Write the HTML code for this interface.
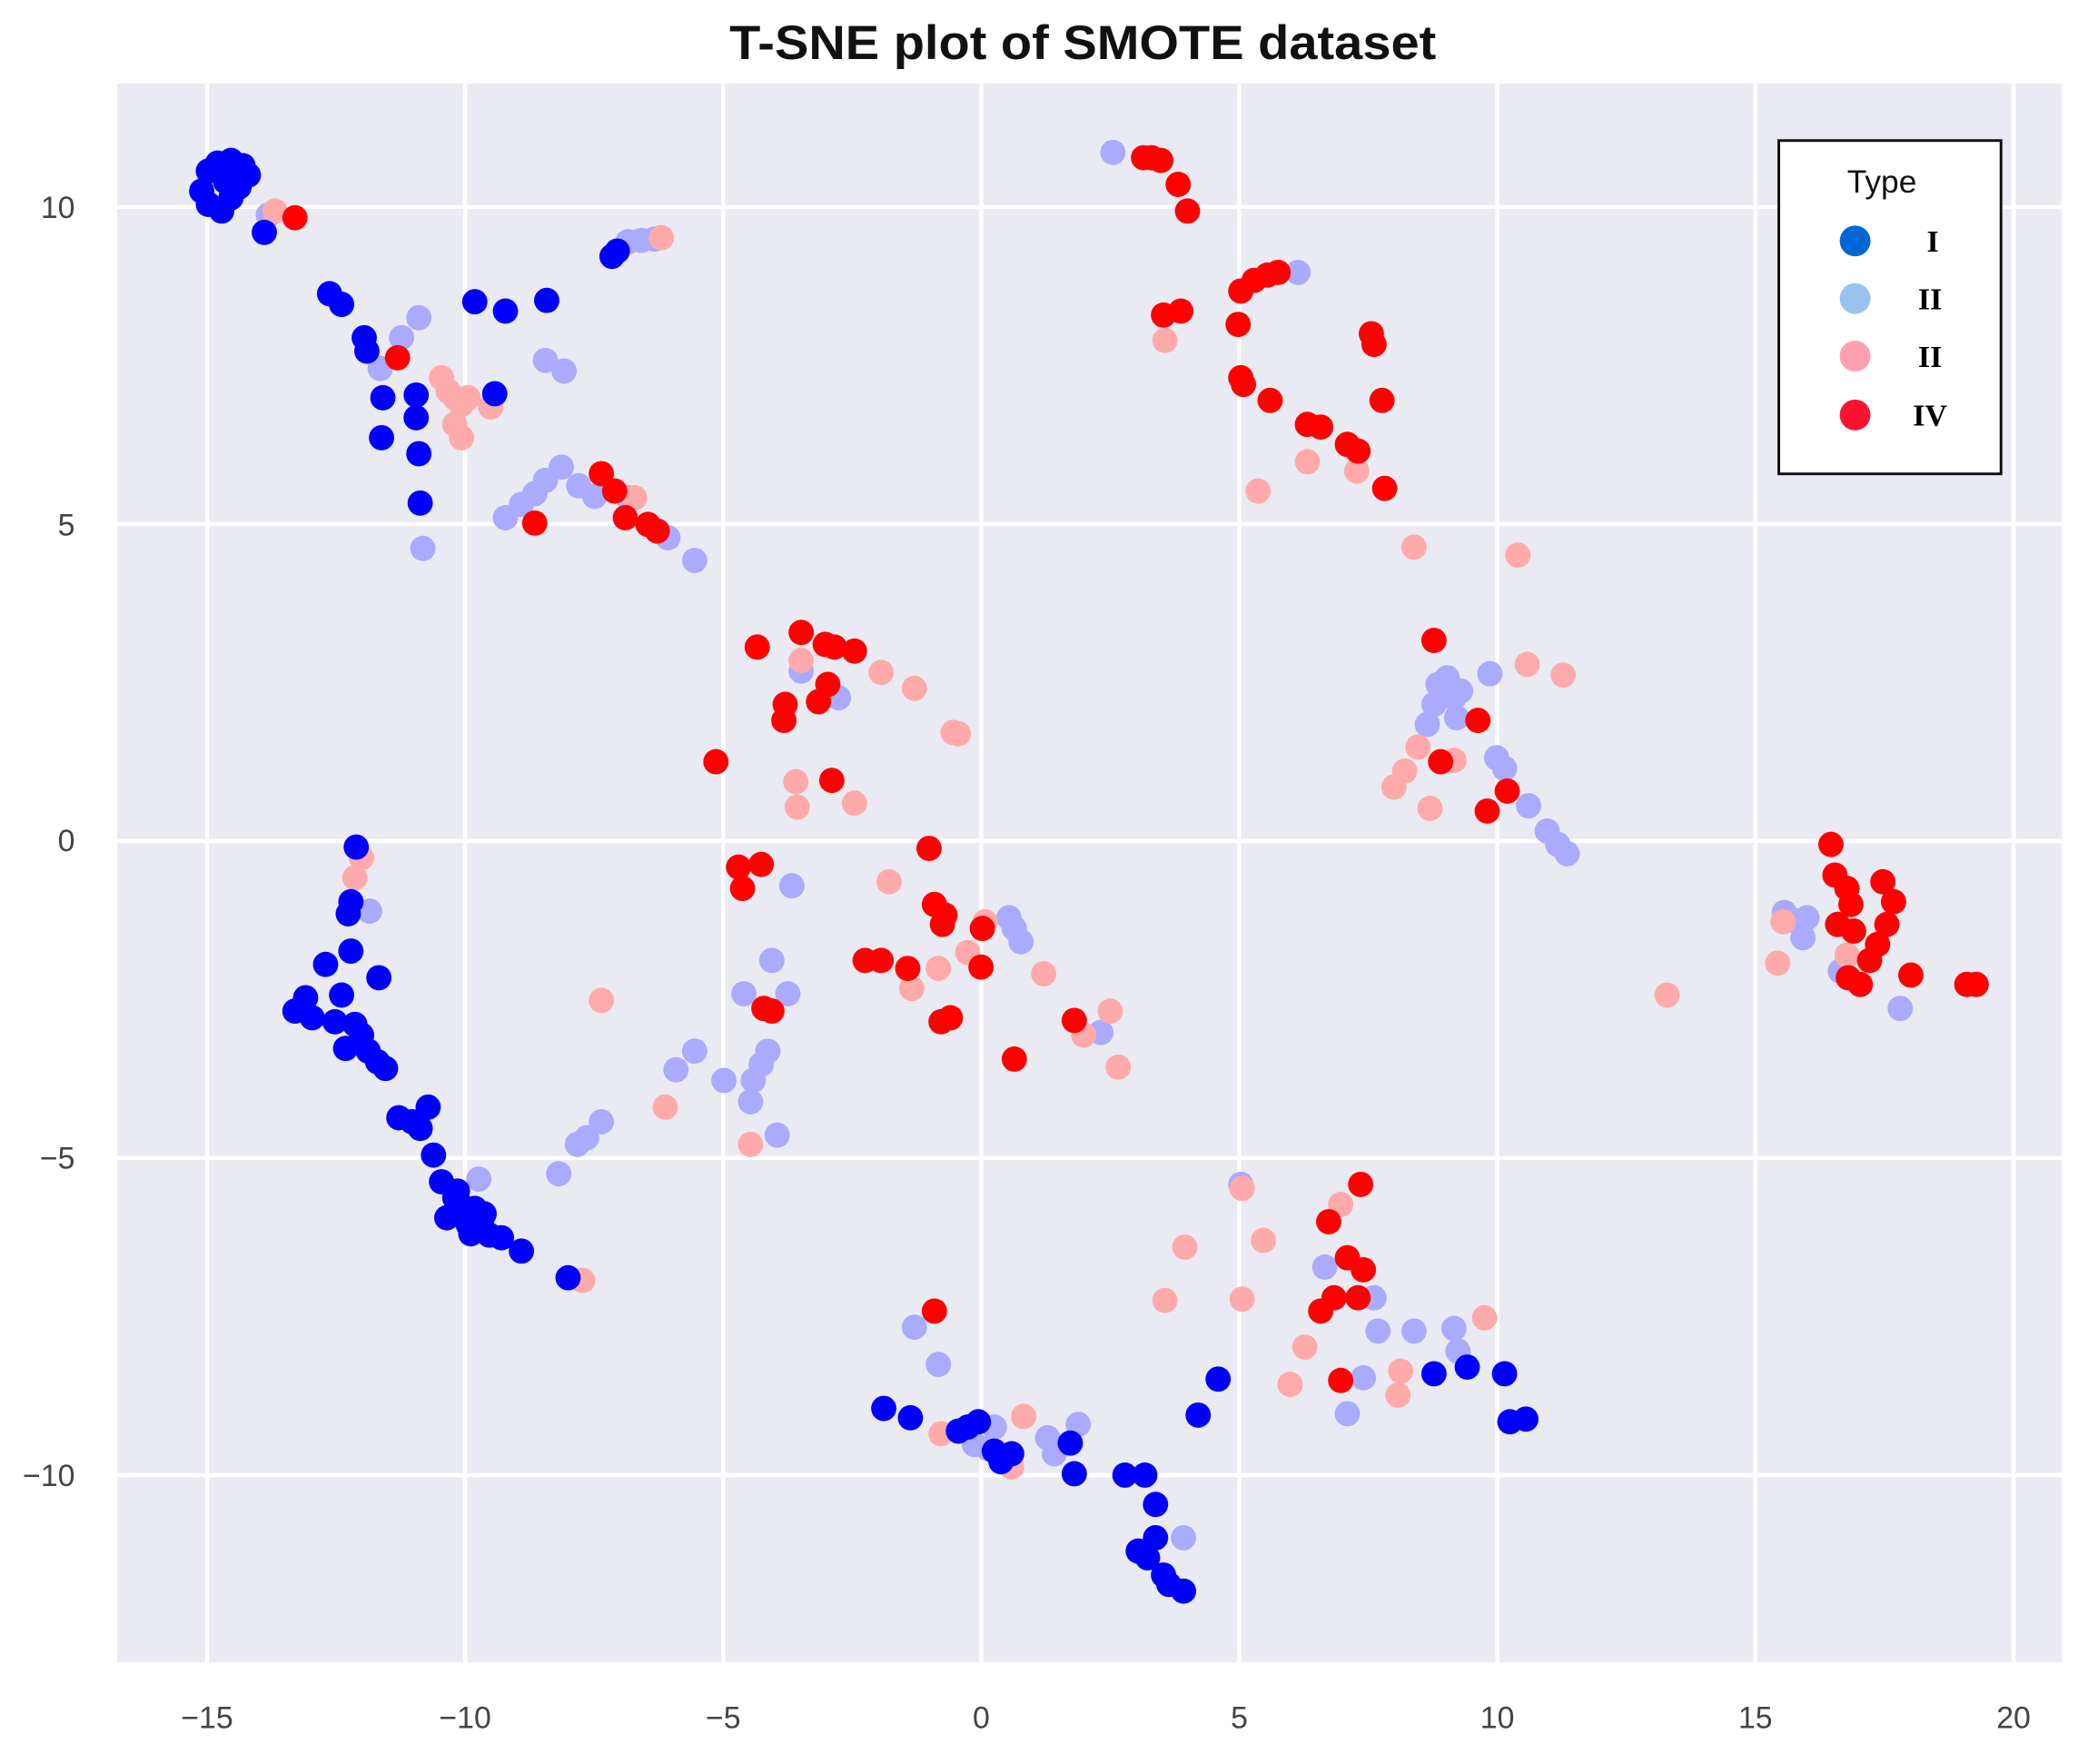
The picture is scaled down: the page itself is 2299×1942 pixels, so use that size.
<!DOCTYPE html>
<html><head><meta charset="utf-8"><style>
html,body{margin:0;padding:0;background:#fff;}
svg{display:block;}
</style></head><body>
<svg width="2299" height="1942" viewBox="0 0 1560 1317.8" preserveAspectRatio="none" xmlns="http://www.w3.org/2000/svg">
<rect x="0" y="0" width="1560" height="1318" fill="#fff"/>
<rect x="87.5" y="62.4" width="1452.8" height="1179.4" fill="#eaeaf2"/>
<g stroke="#fff" stroke-width="3">
<line x1="154.7" y1="62.4" x2="154.7" y2="1241.8"/><line x1="347.5" y1="62.4" x2="347.5" y2="1241.8"/><line x1="540.3" y1="62.4" x2="540.3" y2="1241.8"/><line x1="733.1" y1="62.4" x2="733.1" y2="1241.8"/><line x1="925.9" y1="62.4" x2="925.9" y2="1241.8"/><line x1="1118.7" y1="62.4" x2="1118.7" y2="1241.8"/><line x1="1311.5" y1="62.4" x2="1311.5" y2="1241.8"/><line x1="1504.4" y1="62.4" x2="1504.4" y2="1241.8"/>
<line x1="87.5" y1="154.7" x2="1540.3" y2="154.7"/><line x1="87.5" y1="391.5" x2="1540.3" y2="391.5"/><line x1="87.5" y1="628.3" x2="1540.3" y2="628.3"/><line x1="87.5" y1="865.1" x2="1540.3" y2="865.1"/><line x1="87.5" y1="1102" x2="1540.3" y2="1102"/>
</g>
<g font-family="Liberation Sans, sans-serif" font-size="23" fill="#444" text-anchor="middle">
<text x="154.7" y="1291">−15</text><text x="347.5" y="1291">−10</text><text x="540.3" y="1291">−5</text><text x="733.1" y="1291">0</text><text x="925.9" y="1291">5</text><text x="1118.7" y="1291">10</text><text x="1311.5" y="1291">15</text><text x="1504.4" y="1291">20</text>
</g>
<g font-family="Liberation Sans, sans-serif" font-size="23" fill="#444" text-anchor="end">
<text x="56" y="163">10</text><text x="56" y="400">5</text><text x="56" y="636">0</text><text x="56" y="873">−5</text><text x="56" y="1110">−10</text>
</g>
<text x="809" y="44" font-family="Liberation Sans, sans-serif" font-weight="bold" font-size="36" text-anchor="middle" textLength="528" lengthAdjust="spacingAndGlyphs" fill="#111">T-SNE plot of SMOTE dataset</text>
<g transform="matrix(0.9953,0,0,0.9961,1.4,-1.7)">
<g fill="#aaaaff">
<circle cx="200" cy="163" r="9.5"/><circle cx="834" cy="116" r="9.5"/><circle cx="973" cy="206" r="9.5"/>
<circle cx="284" cy="278" r="9.5"/><circle cx="300" cy="255" r="9.5"/><circle cx="313" cy="240" r="9.5"/><circle cx="408" cy="272" r="9.5"/><circle cx="422" cy="280" r="9.5"/><circle cx="316" cy="413" r="9.5"/><circle cx="378" cy="390" r="9.5"/><circle cx="390" cy="380" r="9.5"/><circle cx="400" cy="372" r="9.5"/><circle cx="408" cy="362" r="9.5"/><circle cx="420" cy="352" r="9.5"/><circle cx="433" cy="366" r="9.5"/><circle cx="445" cy="374" r="9.5"/><circle cx="470" cy="375" r="9.5"/><circle cx="500" cy="405" r="9.5"/><circle cx="520" cy="422" r="9.5"/><circle cx="470" cy="183" r="9.5"/><circle cx="480" cy="182" r="9.5"/><circle cx="490" cy="181" r="9.5"/>
<circle cx="1070" cy="545" r="9.5"/><circle cx="1075" cy="530" r="9.5"/><circle cx="1078" cy="515" r="9.5"/><circle cx="1085" cy="510" r="9.5"/><circle cx="1090" cy="525" r="9.5"/><circle cx="1095" cy="520" r="9.5"/><circle cx="1092" cy="540" r="9.5"/><circle cx="1117" cy="507" r="9.5"/><circle cx="1122" cy="570" r="9.5"/><circle cx="1128" cy="578" r="9.5"/><circle cx="1146" cy="606" r="9.5"/><circle cx="1160" cy="625" r="9.5"/><circle cx="1168" cy="635" r="9.5"/><circle cx="1175" cy="642" r="9.5"/>
<circle cx="1338" cy="686" r="9.5"/><circle cx="1345" cy="692" r="9.5"/><circle cx="1355" cy="690" r="9.5"/><circle cx="1352" cy="705" r="9.5"/><circle cx="1380" cy="730" r="9.5"/><circle cx="1425" cy="758" r="9.5"/>
<circle cx="600" cy="505" r="9.5"/><circle cx="628" cy="525" r="9.5"/><circle cx="593" cy="666" r="9.5"/><circle cx="756" cy="690" r="9.5"/><circle cx="760" cy="698" r="9.5"/><circle cx="765" cy="708" r="9.5"/><circle cx="578" cy="722" r="9.5"/><circle cx="557" cy="747" r="9.5"/><circle cx="590" cy="747" r="9.5"/><circle cx="575" cy="790" r="9.5"/><circle cx="570" cy="800" r="9.5"/><circle cx="564" cy="812" r="9.5"/><circle cx="562" cy="828" r="9.5"/><circle cx="582" cy="853" r="9.5"/><circle cx="520" cy="790" r="9.5"/><circle cx="506" cy="804" r="9.5"/><circle cx="542" cy="812" r="9.5"/><circle cx="825" cy="776" r="9.5"/><circle cx="439" cy="855" r="9.5"/><circle cx="432" cy="860" r="9.5"/><circle cx="450" cy="843" r="9.5"/><circle cx="418" cy="882" r="9.5"/>
<circle cx="276" cy="685" r="9.5"/><circle cx="358" cy="886" r="9.5"/>
<circle cx="685" cy="997" r="9.5"/><circle cx="703" cy="1025" r="9.5"/><circle cx="740" cy="1088" r="9.5"/><circle cx="730" cy="1085" r="9.5"/><circle cx="755" cy="1095" r="9.5"/><circle cx="785" cy="1080" r="9.5"/><circle cx="790" cy="1092" r="9.5"/><circle cx="808" cy="1070" r="9.5"/><circle cx="887" cy="1155" r="9.5"/><circle cx="745" cy="1072" r="9.5"/>
<circle cx="930" cy="890" r="9.5"/><circle cx="993" cy="952" r="9.5"/><circle cx="1030" cy="975" r="9.5"/><circle cx="1033" cy="1000" r="9.5"/><circle cx="1060" cy="1000" r="9.5"/><circle cx="1090" cy="998" r="9.5"/><circle cx="1093" cy="1015" r="9.5"/><circle cx="1022" cy="1035" r="9.5"/><circle cx="1010" cy="1062" r="9.5"/>
</g>
<g fill="#ffaaaa">
<circle cx="205" cy="160" r="9.5"/><circle cx="330" cy="285" r="9.5"/><circle cx="335" cy="295" r="9.5"/><circle cx="340" cy="300" r="9.5"/><circle cx="345" cy="305" r="9.5"/><circle cx="350" cy="300" r="9.5"/><circle cx="340" cy="320" r="9.5"/><circle cx="345" cy="330" r="9.5"/><circle cx="367" cy="307" r="9.5"/><circle cx="495" cy="180" r="9.5"/><circle cx="475" cy="375" r="9.5"/>
<circle cx="873" cy="257" r="9.5"/><circle cx="943" cy="370" r="9.5"/><circle cx="980" cy="348" r="9.5"/><circle cx="1017" cy="355" r="9.5"/><circle cx="1060" cy="412" r="9.5"/><circle cx="1138" cy="418" r="9.5"/>
<circle cx="1145" cy="500" r="9.5"/><circle cx="1172" cy="508" r="9.5"/><circle cx="1090" cy="572" r="9.5"/><circle cx="1063" cy="562" r="9.5"/><circle cx="1053" cy="580" r="9.5"/><circle cx="1045" cy="592" r="9.5"/><circle cx="1072" cy="608" r="9.5"/>
<circle cx="1333" cy="724" r="9.5"/><circle cx="1337" cy="693" r="9.5"/><circle cx="1385" cy="718" r="9.5"/><circle cx="1250" cy="748" r="9.5"/>
<circle cx="600" cy="497" r="9.5"/><circle cx="660" cy="506" r="9.5"/><circle cx="685" cy="518" r="9.5"/><circle cx="714" cy="551" r="9.5"/><circle cx="718" cy="552" r="9.5"/><circle cx="596" cy="588" r="9.5"/><circle cx="597" cy="607" r="9.5"/><circle cx="640" cy="604" r="9.5"/><circle cx="666" cy="663" r="9.5"/><circle cx="725" cy="716" r="9.5"/><circle cx="738" cy="693" r="9.5"/><circle cx="703" cy="728" r="9.5"/><circle cx="683" cy="743" r="9.5"/><circle cx="782" cy="732" r="9.5"/><circle cx="832" cy="760" r="9.5"/><circle cx="812" cy="778" r="9.5"/><circle cx="838" cy="802" r="9.5"/><circle cx="450" cy="752" r="9.5"/><circle cx="498" cy="832" r="9.5"/><circle cx="562" cy="860" r="9.5"/>
<circle cx="270" cy="645" r="9.5"/><circle cx="265" cy="660" r="9.5"/><circle cx="436" cy="962" r="9.5"/>
<circle cx="705" cy="1077" r="9.5"/><circle cx="767" cy="1064" r="9.5"/><circle cx="758" cy="1102" r="9.5"/>
<circle cx="931" cy="893" r="9.5"/><circle cx="888" cy="937" r="9.5"/><circle cx="947" cy="932" r="9.5"/><circle cx="873" cy="977" r="9.5"/><circle cx="931" cy="976" r="9.5"/><circle cx="978" cy="1012" r="9.5"/><circle cx="967" cy="1040" r="9.5"/><circle cx="1005" cy="905" r="9.5"/><circle cx="1050" cy="1030" r="9.5"/><circle cx="1048" cy="1048" r="9.5"/><circle cx="1113" cy="990" r="9.5"/>
</g>
<g fill="#0000ff">
<circle cx="150" cy="145" r="9.5"/><circle cx="155" cy="130" r="9.5"/><circle cx="162" cy="124" r="9.5"/><circle cx="172" cy="122" r="9.5"/><circle cx="181" cy="126" r="9.5"/><circle cx="185" cy="133" r="9.5"/><circle cx="178" cy="142" r="9.5"/><circle cx="172" cy="150" r="9.5"/><circle cx="165" cy="160" r="9.5"/><circle cx="155" cy="155" r="9.5"/><circle cx="168" cy="138" r="9.5"/><circle cx="197" cy="176" r="9.5"/>
<circle cx="246" cy="222" r="9.5"/><circle cx="255" cy="230" r="9.5"/><circle cx="272" cy="255" r="9.5"/><circle cx="274" cy="265" r="9.5"/><circle cx="286" cy="300" r="9.5"/><circle cx="285" cy="330" r="9.5"/><circle cx="311" cy="298" r="9.5"/><circle cx="311" cy="315" r="9.5"/><circle cx="313" cy="342" r="9.5"/><circle cx="314" cy="379" r="9.5"/><circle cx="355" cy="228" r="9.5"/><circle cx="378" cy="235" r="9.5"/><circle cx="409" cy="227" r="9.5"/><circle cx="370" cy="297" r="9.5"/><circle cx="458" cy="194" r="9.5"/><circle cx="462" cy="190" r="9.5"/>
<circle cx="266" cy="637" r="9.5"/><circle cx="262" cy="678" r="9.5"/><circle cx="260" cy="687" r="9.5"/><circle cx="262" cy="715" r="9.5"/><circle cx="283" cy="735" r="9.5"/><circle cx="243" cy="725" r="9.5"/><circle cx="220" cy="760" r="9.5"/><circle cx="228" cy="750" r="9.5"/><circle cx="233" cy="765" r="9.5"/><circle cx="255" cy="748" r="9.5"/><circle cx="250" cy="768" r="9.5"/><circle cx="258" cy="788" r="9.5"/><circle cx="265" cy="770" r="9.5"/><circle cx="270" cy="778" r="9.5"/><circle cx="275" cy="790" r="9.5"/><circle cx="282" cy="798" r="9.5"/><circle cx="288" cy="803" r="9.5"/><circle cx="298" cy="840" r="9.5"/><circle cx="308" cy="843" r="9.5"/><circle cx="314" cy="848" r="9.5"/><circle cx="320" cy="832" r="9.5"/><circle cx="324" cy="868" r="9.5"/><circle cx="330" cy="888" r="9.5"/><circle cx="334" cy="915" r="9.5"/><circle cx="340" cy="900" r="9.5"/><circle cx="344" cy="905" r="9.5"/><circle cx="350" cy="920" r="9.5"/><circle cx="360" cy="918" r="9.5"/><circle cx="355" cy="908" r="9.5"/><circle cx="362" cy="912" r="9.5"/><circle cx="366" cy="928" r="9.5"/><circle cx="375" cy="930" r="9.5"/><circle cx="390" cy="940" r="9.5"/><circle cx="425" cy="960" r="9.5"/><circle cx="352" cy="927" r="9.5"/><circle cx="342" cy="895" r="9.5"/>
<circle cx="662" cy="1058" r="9.5"/><circle cx="682" cy="1065" r="9.5"/><circle cx="718" cy="1075" r="9.5"/><circle cx="725" cy="1072" r="9.5"/><circle cx="733" cy="1068" r="9.5"/><circle cx="745" cy="1090" r="9.5"/><circle cx="750" cy="1098" r="9.5"/><circle cx="758" cy="1092" r="9.5"/><circle cx="802" cy="1084" r="9.5"/><circle cx="805" cy="1107" r="9.5"/><circle cx="843" cy="1108" r="9.5"/><circle cx="858" cy="1108" r="9.5"/><circle cx="866" cy="1130" r="9.5"/><circle cx="853" cy="1165" r="9.5"/><circle cx="860" cy="1170" r="9.5"/><circle cx="866" cy="1155" r="9.5"/><circle cx="872" cy="1183" r="9.5"/><circle cx="876" cy="1190" r="9.5"/><circle cx="887" cy="1195" r="9.5"/><circle cx="898" cy="1063" r="9.5"/><circle cx="913" cy="1036" r="9.5"/>
<circle cx="1075" cy="1032" r="9.5"/><circle cx="1100" cy="1027" r="9.5"/><circle cx="1128" cy="1032" r="9.5"/><circle cx="1132" cy="1068" r="9.5"/><circle cx="1144" cy="1066" r="9.5"/>
</g>
<g fill="#ff0000">
<circle cx="220" cy="165" r="9.5"/><circle cx="297" cy="270" r="9.5"/><circle cx="450" cy="357" r="9.5"/><circle cx="460" cy="370" r="9.5"/><circle cx="468" cy="390" r="9.5"/><circle cx="485" cy="395" r="9.5"/><circle cx="492" cy="400" r="9.5"/><circle cx="400" cy="394" r="9.5"/>
<circle cx="857" cy="120" r="9.5"/><circle cx="863" cy="120" r="9.5"/><circle cx="870" cy="122" r="9.5"/><circle cx="883" cy="140" r="9.5"/><circle cx="890" cy="160" r="9.5"/><circle cx="872" cy="238" r="9.5"/><circle cx="885" cy="235" r="9.5"/><circle cx="930" cy="220" r="9.5"/><circle cx="928" cy="245" r="9.5"/><circle cx="940" cy="212" r="9.5"/><circle cx="950" cy="208" r="9.5"/><circle cx="958" cy="206" r="9.5"/><circle cx="930" cy="285" r="9.5"/><circle cx="932" cy="290" r="9.5"/><circle cx="952" cy="302" r="9.5"/><circle cx="980" cy="320" r="9.5"/><circle cx="990" cy="322" r="9.5"/><circle cx="1010" cy="335" r="9.5"/><circle cx="1018" cy="340" r="9.5"/><circle cx="1028" cy="252" r="9.5"/><circle cx="1030" cy="260" r="9.5"/><circle cx="1036" cy="302" r="9.5"/><circle cx="1038" cy="368" r="9.5"/>
<circle cx="1075" cy="482" r="9.5"/><circle cx="1108" cy="542" r="9.5"/><circle cx="1080" cy="573" r="9.5"/><circle cx="1115" cy="610" r="9.5"/><circle cx="1130" cy="595" r="9.5"/>
<circle cx="1373" cy="635" r="9.5"/><circle cx="1376" cy="658" r="9.5"/><circle cx="1385" cy="668" r="9.5"/><circle cx="1388" cy="680" r="9.5"/><circle cx="1412" cy="663" r="9.5"/><circle cx="1420" cy="678" r="9.5"/><circle cx="1415" cy="695" r="9.5"/><circle cx="1408" cy="710" r="9.5"/><circle cx="1402" cy="722" r="9.5"/><circle cx="1395" cy="740" r="9.5"/><circle cx="1386" cy="735" r="9.5"/><circle cx="1390" cy="700" r="9.5"/><circle cx="1378" cy="695" r="9.5"/><circle cx="1433" cy="733" r="9.5"/><circle cx="1475" cy="740" r="9.5"/><circle cx="1482" cy="740" r="9.5"/>
<circle cx="567" cy="487" r="9.5"/><circle cx="600" cy="476" r="9.5"/><circle cx="618" cy="485" r="9.5"/><circle cx="625" cy="487" r="9.5"/><circle cx="640" cy="490" r="9.5"/><circle cx="588" cy="530" r="9.5"/><circle cx="587" cy="542" r="9.5"/><circle cx="620" cy="515" r="9.5"/><circle cx="613" cy="528" r="9.5"/><circle cx="623" cy="587" r="9.5"/><circle cx="536" cy="573" r="9.5"/><circle cx="553" cy="652" r="9.5"/><circle cx="570" cy="650" r="9.5"/><circle cx="556" cy="668" r="9.5"/><circle cx="696" cy="638" r="9.5"/><circle cx="700" cy="680" r="9.5"/><circle cx="708" cy="688" r="9.5"/><circle cx="706" cy="695" r="9.5"/><circle cx="736" cy="698" r="9.5"/><circle cx="648" cy="722" r="9.5"/><circle cx="660" cy="722" r="9.5"/><circle cx="680" cy="728" r="9.5"/><circle cx="735" cy="727" r="9.5"/><circle cx="705" cy="768" r="9.5"/><circle cx="712" cy="765" r="9.5"/><circle cx="578" cy="760" r="9.5"/><circle cx="572" cy="758" r="9.5"/><circle cx="760" cy="796" r="9.5"/><circle cx="805" cy="767" r="9.5"/>
<circle cx="700" cy="985" r="9.5"/>
<circle cx="996" cy="918" r="9.5"/><circle cx="1020" cy="890" r="9.5"/><circle cx="1010" cy="945" r="9.5"/><circle cx="1022" cy="954" r="9.5"/><circle cx="1018" cy="975" r="9.5"/><circle cx="1000" cy="975" r="9.5"/><circle cx="990" cy="985" r="9.5"/><circle cx="1005" cy="1037" r="9.5"/>
</g>
</g>
<rect x="1329" y="105" width="166" height="249" fill="#fff" stroke="#111" stroke-width="2"/>
<text x="1406" y="144" font-family="Liberation Sans, sans-serif" font-size="24" text-anchor="middle" fill="#111">Type</text>
<circle cx="1386" cy="180" r="11.5" fill="#0066d6"/>
<circle cx="1386" cy="223" r="11.5" fill="#99c2f0"/>
<circle cx="1386" cy="266" r="11.5" fill="#ffa0b0"/>
<circle cx="1386" cy="310" r="11.5" fill="#ff1133"/>
<g font-family="Liberation Serif, serif" font-weight="bold" font-size="23" fill="#000" text-anchor="middle">
<text x="1444" y="188">I</text><text x="1442" y="231">II</text><text x="1442" y="274">II</text><text x="1442" y="318">IV</text>
</g>
</svg>
</body></html>
